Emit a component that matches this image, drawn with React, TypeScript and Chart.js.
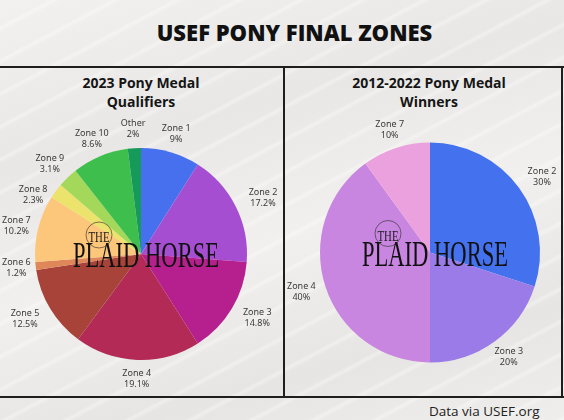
import React, { useEffect, useRef } from 'react';
import { Chart, registerables } from 'chart.js';

Chart.register(...registerables);

const qualifierZones = ['Zone 1', 'Zone 2', 'Zone 3', 'Zone 4', 'Zone 5', 'Zone 6', 'Zone 7', 'Zone 8', 'Zone 9', 'Zone 10', 'Other'];
const qualifierPercents = [9, 17.2, 14.8, 19.1, 12.5, 1.2, 10.2, 2.3, 3.1, 8.6, 2];
const qualifierColors = ['#4670ee', '#a64ed2', '#b5208e', '#b22a55', '#a8433a', '#e0875a', '#fdc77b', '#ece36c', '#a3d85a', '#3dbe4d', '#159a5a'];

const winnerZones = ['Zone 2', 'Zone 3', 'Zone 4', 'Zone 7'];
const winnerPercents = [30, 20, 40, 10];
const winnerColors = ['#4472ee', '#9b7be8', '#c886e0', '#eba1dd'];

const LABEL_FONT = '9px "Noto Sans", sans-serif';

const logoPlugin = {
  id: 'plaidLogo',
  afterDatasetsDraw(chart: any) {
    const arc = chart.getDatasetMeta(0).data[0];
    if (!arc) return;
    const cx = arc.x;
    const cy = arc.y;
    const ctx = chart.ctx;
    ctx.save();
    ctx.fillStyle = '#111';
    ctx.font = '35px "Liberation Serif", serif';
    const text = 'PLAID HORSE';
    const tw = ctx.measureText(text).width;
    ctx.translate(cx + 5, cy + 13);
    ctx.scale(146 / tw, 1);
    ctx.textAlign = 'center';
    ctx.textBaseline = 'alphabetic';
    ctx.fillText(text, 0, 0);
    ctx.restore();

    ctx.save();
    ctx.beginPath();
    ctx.arc(cx - 42, cy - 19, 13, 0, Math.PI * 2);
    ctx.strokeStyle = 'rgba(40,40,40,0.75)';
    ctx.lineWidth = 0.8;
    ctx.stroke();
    ctx.fillStyle = '#1a1a1a';
    ctx.font = '15px "Liberation Serif", serif';
    const tw2 = ctx.measureText('THE').width;
    ctx.translate(cx - 42, cy - 12);
    ctx.scale(21 / tw2, 1);
    ctx.textAlign = 'center';
    ctx.fillText('THE', 0, 0);
    ctx.restore();
  },
};

const outsideLabels = {
  id: 'outsideLabels',
  afterDraw(chart: any) {
    const ctx = chart.ctx;
    const meta = chart.getDatasetMeta(0);
    const labels = chart.data.labels as string[];
    const values = chart.data.datasets[0].data as number[];
    ctx.save();
    ctx.font = LABEL_FONT;
    const boxes: any[] = [];
    meta.data.forEach((arc: any, i: number) => {
      const p = arc.getProps(['x', 'y', 'startAngle', 'endAngle', 'outerRadius'], true);
      const mid = (p.startAngle + p.endAngle) / 2;
      const d = p.outerRadius + 19;
      const l1 = labels[i];
      const l2 = String(values[i]) + '%';
      const w = Math.max(ctx.measureText(l1).width, ctx.measureText(l2).width);
      const c = Math.cos(mid);
      let lx = p.x + c * d + (w / 2) * Math.sign(c) * Math.pow(Math.abs(c), 3);
      const ly = p.y + Math.sin(mid) * d;
      lx = Math.max(w / 2 + 2, Math.min(chart.width - w / 2 - 2, lx));
      boxes.push({ lx, ly, w, l1, l2 });
    });
    const minGap = 31;
    for (let pass = 0; pass < 4; pass++) {
      for (let a = 0; a < boxes.length; a++) {
        for (let b = 0; b < boxes.length; b++) {
          if (a === b) continue;
          const A = boxes[a];
          const B = boxes[b];
          const hOverlap = Math.abs(A.lx - B.lx) < (A.w + B.w) / 2;
          if (!hOverlap) continue;
          if (B.ly >= A.ly && B.ly - A.ly < minGap) {
            B.ly = A.ly + minGap;
          }
        }
      }
    }
    ctx.fillStyle = '#3a3a3a';
    ctx.textAlign = 'center';
    ctx.textBaseline = 'middle';
    boxes.forEach((bx) => {
      ctx.fillText(bx.l1, bx.lx, bx.ly - 5.5);
      ctx.fillText(bx.l2, bx.lx, bx.ly + 5.5);
    });
    ctx.restore();
  },
};

function PieChart(props: {
  labels: string[];
  values: number[];
  colors: string[];
  width: number;
  height: number;
  padding: { left: number; right: number; top: number; bottom: number };
  style: React.CSSProperties;
}) {
  const ref = useRef<HTMLCanvasElement | null>(null);
  useEffect(() => {
    if (!ref.current) return;
    const chart = new Chart(ref.current, {
      type: 'pie',
      data: {
        labels: props.labels,
        datasets: [
          {
            data: props.values,
            backgroundColor: props.colors,
            borderWidth: 0,
          },
        ],
      },
      options: {
        responsive: false,
        animation: false,
        layout: { padding: props.padding },
        plugins: {
          legend: { display: false },
          tooltip: { enabled: false },
        },
      },
      plugins: [logoPlugin, outsideLabels],
    });
    return () => chart.destroy();
  }, []);
  return <canvas ref={ref} width={props.width} height={props.height} style={{ position: 'absolute', ...props.style }} />;
}

export default function App() {
  const line = '#1e1e1e';
  return (
    <div
      style={{
        position: 'fixed',
        left: 0,
        top: 0,
        width: 564,
        height: 420,
        overflow: 'hidden',
        fontFamily: '"Open Sans", sans-serif',
        background:
          'repeating-linear-gradient(152deg, rgba(255,255,255,0) 0px, rgba(255,255,255,0) 22px, rgba(255,255,255,0.35) 25px, rgba(255,255,255,0) 29px), linear-gradient(165deg, #f2f1ef 0%, #e8e7e5 30%, #f1f0ee 55%, #e6e5e3 80%, #efeeec 100%)',
      }}
    >
      <div
        style={{
          position: 'absolute',
          left: 0,
          width: 564,
          top: 18,
          textAlign: 'center',
          paddingLeft: 25,
          boxSizing: 'border-box',
          fontSize: 22,
          fontWeight: 800,
          color: '#111',
          lineHeight: '28px',
          letterSpacing: 0,
        }}
      >
        USEF PONY FINAL ZONES
      </div>
      <div style={{ position: 'absolute', left: 0, top: 66, width: 564, height: 2, background: line }} />
      <div style={{ position: 'absolute', left: 0, top: 396, width: 564, height: 2, background: line }} />
      <div style={{ position: 'absolute', left: 283, top: 66, width: 2, height: 332, background: line }} />
      <div style={{ position: 'absolute', left: 561, top: 66, width: 2, height: 332, background: line }} />

      <div
        style={{
          position: 'absolute',
          left: 0,
          width: 282,
          top: 74,
          textAlign: 'center',
          fontSize: 14,
          fontWeight: 700,
          color: '#151515',
          lineHeight: '18.5px',
        }}
      >
        2023 Pony Medal
        <br />
        Qualifiers
      </div>
      <div
        style={{
          position: 'absolute',
          left: 285,
          width: 288,
          top: 74,
          textAlign: 'center',
          fontSize: 14,
          fontWeight: 700,
          color: '#151515',
          lineHeight: '18.5px',
        }}
      >
        2012-2022 Pony Medal
        <br />
        Winners
      </div>

      <PieChart
        labels={qualifierZones}
        values={qualifierPercents}
        colors={qualifierColors}
        width={282}
        height={327}
        padding={{ left: 35, right: 35, top: 79, bottom: 36 }}
        style={{ left: 0, top: 69 }}
      />
      <PieChart
        labels={winnerZones}
        values={winnerPercents}
        colors={winnerColors}
        width={276}
        height={327}
        padding={{ left: 35, right: 21, top: 73.5, bottom: 33.5 }}
        style={{ left: 285, top: 69 }}
      />

      <div
        style={{
          position: 'absolute',
          left: 429,
          top: 402,
          fontSize: 13.5,
          color: '#222',
          lineHeight: '18px',
          whiteSpace: 'nowrap',
        }}
      >
        Data via USEF.org
      </div>
    </div>
  );
}
